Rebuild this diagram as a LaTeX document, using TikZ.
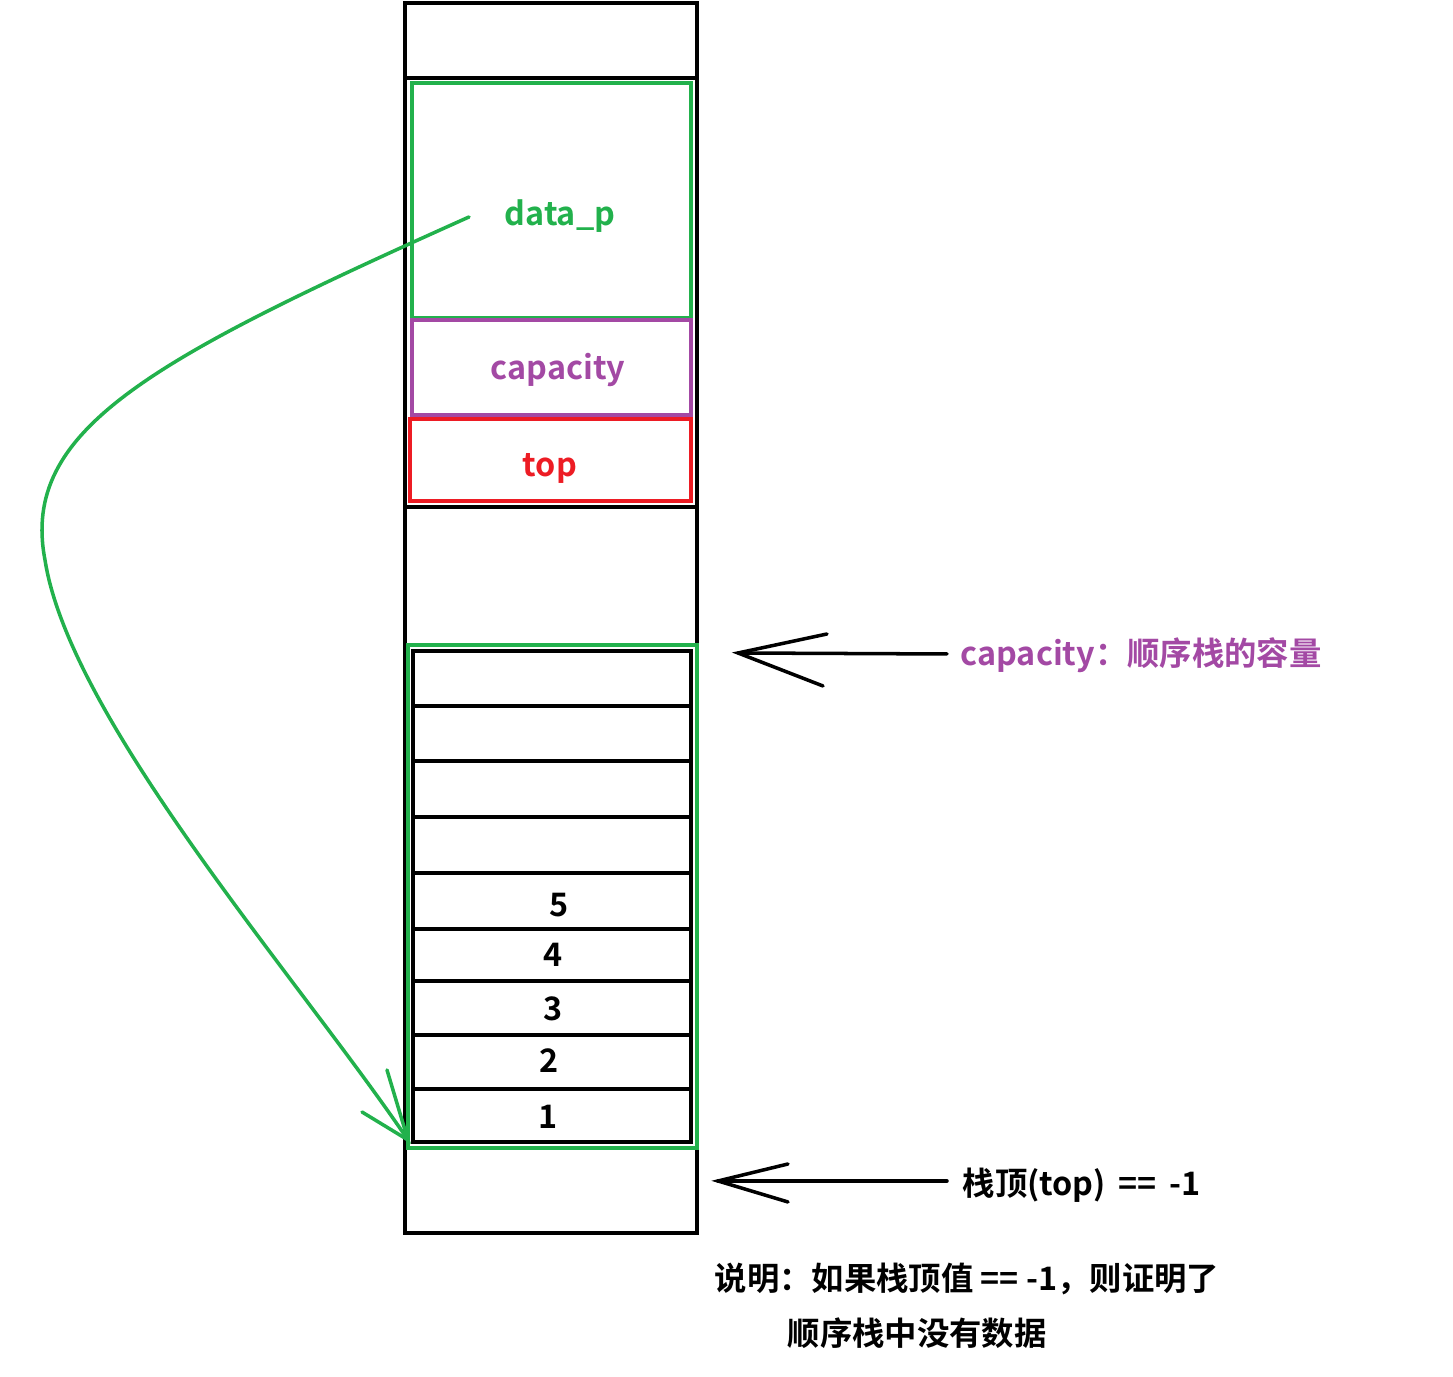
\documentclass[tikz,border=0pt]{standalone}
\usepackage{fontspec}
\setmainfont{Noto Sans CJK SC}[BoldFont={Noto Sans CJK SC Bold}]
\definecolor{gr}{RGB}{34,177,76}
\definecolor{pu}{RGB}{163,73,164}
\definecolor{rd}{RGB}{237,28,36}
\begin{document}
\begin{tikzpicture}[x=0.01cm,y=-0.01cm,
 blk/.style={draw=black,line width=1.2pt},
 lbl/.style={font=\fontsize{9.2}{11}\selectfont\bfseries,inner sep=0pt},
 hand/.style={draw=black,line width=1pt,line cap=round}]
\useasboundingbox (0,0) rectangle (1453,1377);
\draw[blk] (405,3) rectangle (697,1233);
\draw[blk] (405,78) -- (697,78);
\draw[blk] (405,507) -- (697,507);
\draw[gr,line width=1.1pt] (412,83) rectangle (691,318);
\draw[pu,line width=1.1pt] (412,320) rectangle (691,415);
\draw[rd,line width=1.1pt] (410,419) rectangle (691,501);
\node[lbl,text=gr] (tdp) at (560,216) {data\_p};
\node[lbl,text=pu] (tcap) at (558,370) {capacity};
\node[lbl,text=rd] (ttop) at (550,468) {top};
\draw[blk] (413,651) rectangle (691,1142);
\foreach \y in {706,761,817,873,929,981,1035,1089}{\draw[blk] (413,\y) -- (691,\y);}
\draw[gr,line width=1.2pt] (408,645) rectangle (697,1148);
\node[lbl] (n5) at (559,905) {5};
\node[lbl] (n4) at (553,955) {4};
\node[lbl] (n3) at (553,1009) {3};
\node[lbl] (n2) at (549,1061) {2};
\node[lbl] (n1) at (548,1117) {1};
\coordinate (cs) at (469,217);
\coordinate (ce) at (408,1140);
\draw[gr,line width=1pt,line cap=round] (cs) .. controls (150,360) and (20,430) .. (45,560)
  .. controls (70,720) and (300,980) .. (ce);
\draw[gr,line width=1pt,line cap=round] (387,1070) -- (ce) -- (362,1112);
\node[lbl,text=pu,anchor=west] (lcap) at (960,655) {capacity：顺序栈的容量};
\coordinate (a1) at (738,653);
\draw[hand] (947,654) -- (a1);
\draw[hand] (827,634) -- (a1) -- (823,686);
\node[lbl,anchor=west] (ltop) at (962,1185) {栈顶(top)\ \,==\ \,-1};
\coordinate (a2) at (718,1181);
\draw[hand] (947,1181) -- (a2);
\draw[hand] (788,1164) -- (a2) -- (788,1202);
\node[lbl,anchor=west] (s1) at (714,1279) {说明：如果栈顶值 == -1，则证明了};
\node[lbl,anchor=west] (s2) at (787,1333) {顺序栈中没有数据};
\end{tikzpicture}
\end{document}
